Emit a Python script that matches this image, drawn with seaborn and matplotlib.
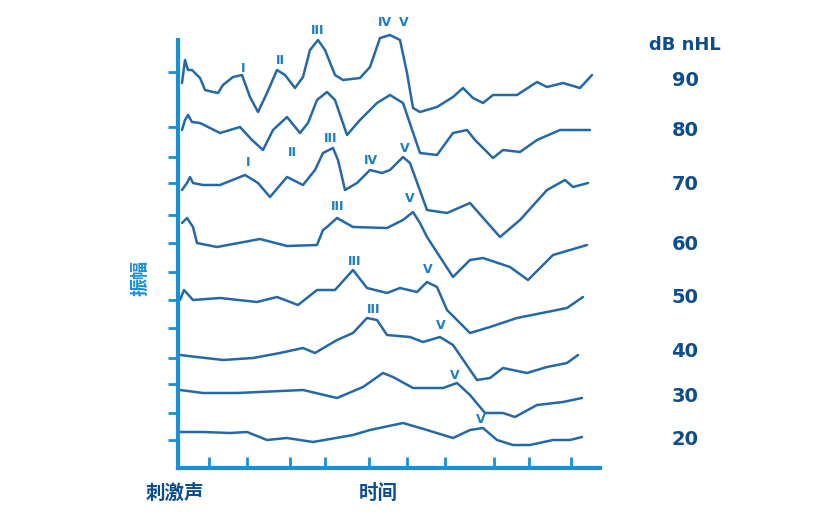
import matplotlib
matplotlib.use("Agg")
import matplotlib.pyplot as plt
import seaborn as sns

sns.set_theme(style="white")
plt.rcParams['font.family'] = ['Noto Sans CJK SC', 'DejaVu Sans']

# waveforms, traced in picture units (x: time, y: amplitude, screen-down)
x90 = [182,185,188,192,195,200,203,205,213,218,223,233,242,250,258,267,277,285,295,303,310,318,325,335,343,360,370,380,390,400,407,413,420,437,453,463,473,483,493,517,537,547,563,580,592]
y90 = [83,60,70,70,73,78,85,90,92,93,85,77,75,97,112,93,70,75,88,77,50,40,50,75,80,78,67,38,35,40,73,108,112,107,97,88,98,103,95,95,82,87,83,88,75]
x80 = [182,185,188,192,200,208,220,240,252,263,273,287,300,308,317,327,335,347,360,377,390,403,420,437,453,467,475,493,503,520,537,560,590]
y80 = [130,120,115,122,123,127,133,127,140,150,130,117,133,123,100,92,100,135,120,103,95,103,153,155,133,130,140,158,150,152,140,130,130]
x70 = [182,187,190,193,203,220,245,258,270,287,303,315,323,333,338,345,357,370,382,390,403,410,427,447,470,500,520,547,565,573,588]
y70 = [190,183,177,183,185,185,175,183,197,177,185,170,153,148,160,190,183,170,173,170,157,163,210,213,203,237,220,190,180,187,183]
x60 = [182,187,193,197,217,260,287,317,323,327,337,353,387,403,413,420,427,453,470,483,510,528,553,587]
y60 = [223,218,227,243,247,239,246,245,230,227,218,227,228,220,212,223,237,277,260,258,267,280,255,245]
x50 = [180,184,193,220,257,277,298,317,335,353,367,387,400,417,427,437,447,470,490,517,547,567,583]
y50 = [300,290,300,298,302,297,305,290,290,270,288,293,288,292,282,287,310,333,327,318,312,308,297]
x40 = [180,197,223,253,280,303,315,337,353,367,377,387,410,423,440,453,477,490,503,527,547,567,578]
y40 = [355,357,360,358,353,348,353,340,333,318,320,335,337,342,337,345,380,378,368,373,367,363,355]
x30 = [180,203,237,303,337,363,383,393,413,443,457,470,485,503,515,537,563,582]
y30 = [390,393,393,390,398,387,373,377,388,388,383,395,413,413,417,405,402,398]
x20 = [180,203,230,247,267,287,313,353,370,403,427,453,470,483,497,513,530,553,570,582]
y20 = [432,432,433,432,440,438,442,435,430,423,430,438,430,428,440,445,445,440,440,437]

traces = [(x90, y90), (x80, y80), (x70, y70), (x60, y60),
          (x50, y50), (x40, y40), (x30, y30), (x20, y20)]
levels = ["90", "80", "70", "60", "50", "40", "30", "20"]
level_y = [80, 130, 185, 245, 298, 352, 397, 440]

peak_text = ["I", "II", "III", "IV", "V", "I", "II", "III", "IV", "V",
             "III", "V", "III", "V", "III", "V", "V", "V"]
peak_x = [243, 280, 318, 385, 404, 248, 292, 331, 371, 405, 338, 410, 355, 428, 374, 441, 455, 481]
peak_y = [68, 60, 30, 22, 22, 162, 152, 139, 160, 148, 207, 198, 262, 270, 310, 326, 376, 420]

y_ticks = [72, 127, 157, 183, 215, 243, 272, 300, 328, 358, 384, 413, 440]
x_ticks = [209, 247, 290, 325, 369, 407, 445, 494, 529, 571]

axis_c = "#1a8fd6"
line_c = "#2468a8"
label_c = "#0e4c8c"

fig = plt.figure(figsize=(8.2, 5.26), dpi=100)
ax = fig.add_axes([178/820, (526-468)/526, (600-178)/820, (468-40)/526])
ax.set_xlim(178, 600)
ax.set_ylim(468, 40)

for xs, ys in traces:
    sns.lineplot(x=xs, y=ys, ax=ax, color=line_c, lw=1.8, sort=False, clip_on=False,
                 solid_joinstyle='round', solid_capstyle='round')

for t, px, py in zip(peak_text, peak_x, peak_y):
    ax.text(px, py, t, color="#1a7fc0", fontsize=9, fontweight='bold',
            ha='center', va='center', family=['DejaVu Sans'], clip_on=False)

for lv, ly in zip(levels, level_y):
    ax.text(685, ly, lv, color=label_c, fontsize=14, fontweight='bold',
            ha='center', va='center', clip_on=False, family=['DejaVu Sans'])
ax.text(685, 45, "dB nHL", color=label_c, fontsize=13, fontweight='bold',
        ha='center', va='center', clip_on=False, family=['DejaVu Sans'])

ax.text(140, 278, "振幅", color=axis_c, fontsize=13, fontweight='bold',
        rotation=90, ha='center', va='center', clip_on=False)
ax.text(175, 493, "刺激声", color=label_c, fontsize=14, fontweight='bold',
        ha='center', va='center', clip_on=False)
ax.text(378, 493, "时间", color=label_c, fontsize=14, fontweight='bold',
        ha='center', va='center', clip_on=False)

for s in ['top', 'right']:
    ax.spines[s].set_visible(False)
for s in ['left', 'bottom']:
    ax.spines[s].set_color(axis_c)
    ax.spines[s].set_linewidth(3)
ax.set_yticks(y_ticks)
ax.set_xticks(x_ticks)
ax.set_xticklabels([])
ax.set_yticklabels([])
ax.tick_params(axis='y', direction='out', length=7, width=2, color=axis_c, left=True)
ax.tick_params(axis='x', direction='in', length=8, width=2, color=axis_c, bottom=True)
ax.set_xlabel("")
ax.set_ylabel("")

fig.savefig("out.png", dpi=100)
